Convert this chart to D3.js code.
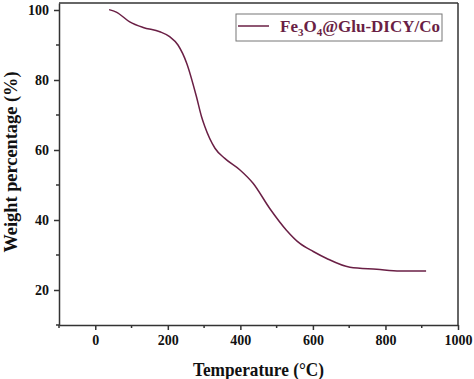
<!DOCTYPE html>
<html>
<head>
<meta charset="utf-8">
<script src="https://cdn.jsdelivr.net/npm/d3@7"></script>
<style>
  body { margin: 0; background: #fff; }
  svg text { font-family: "Liberation Serif", "Times New Roman", serif; font-weight: bold; }
</style>
</head>
<body>
<div id="chart-area"></div>
<script>
// TGA curve
let temperature = [38, 58, 95, 132, 178, 205, 228, 252, 279, 293, 302, 330, 357, 399, 435, 481, 527, 564, 601, 638, 702, 776, 840, 912];
let weight = [100.1, 99.4, 96.6, 95.0, 93.8, 92.4, 90.0, 84.8, 75.2, 69.5, 66.7, 60.5, 57.6, 54.3, 50.5, 43.3, 37.1, 33.3, 31.0, 29.0, 26.5, 25.9, 25.4, 25.4];
let xTicks = [0, 200, 400, 600, 800, 1000];
let yTicks = [20, 40, 60, 80, 100];
let seriesName = ["Fe", "3", "O", "4", "@Glu-DICY/Co"];

let margin = {top: 3, right: 16, bottom: 54, left: 59},
    width = 474 - margin.left - margin.right,
    height = 379 - margin.top - margin.bottom;

let lineColor = "#6a1f45";
let axisColor = "#333";

let svg = d3.select("#chart-area")
    .append("svg")
    .attr("width", 474)
    .attr("height", 379);
let g = svg.append("g")
    .attr("transform", "translate(" + margin.left + "," + margin.top + ")");

let x = d3.scaleLinear().domain([-100, 1000]).range([0, width]);
let y = d3.scaleLinear().domain([10, 102]).range([height, 0]);

// minor ticks (every 100 / every 10)
let xMinor = d3.range(-100, 1001, 100).filter(v => xTicks.indexOf(v) < 0);
let yMinor = d3.range(10, 101, 10).filter(v => yTicks.indexOf(v) < 0);

g.selectAll(".xminor").data(xMinor).enter().append("line")
    .attr("x1", d => x(d)).attr("x2", d => x(d))
    .attr("y1", height).attr("y2", height + 3)
    .attr("stroke", axisColor).attr("stroke-width", 1.5);
g.selectAll(".yminor").data(yMinor).enter().append("line")
    .attr("y1", d => y(d)).attr("y2", d => y(d))
    .attr("x1", 0).attr("x2", -3)
    .attr("stroke", axisColor).attr("stroke-width", 1.5);

// Axes
let xAxis = g.append("g")
    .attr("transform", "translate(0," + height + ")")
    .call(d3.axisBottom(x).tickValues(xTicks).tickSize(5).tickSizeOuter(0).tickFormat(d3.format("d")));
let yAxis = g.append("g")
    .call(d3.axisLeft(y).tickValues(yTicks).tickSize(5).tickSizeOuter(0));

[xAxis, yAxis].forEach(a => {
    a.select(".domain").attr("stroke", axisColor).attr("stroke-width", 1.5);
    a.selectAll(".tick line").attr("stroke", axisColor).attr("stroke-width", 1.5);
    a.selectAll(".tick text")
        .attr("fill", "#111")
        .style("font-size", "14px")
        .style("font-family", "'Liberation Serif', 'Times New Roman', serif")
        .style("font-weight", "bold");
});
xAxis.selectAll(".tick text").attr("dy", "0.71em").attr("y", 10);
yAxis.selectAll(".tick text").attr("x", -10);

// top and right frame
g.append("line").attr("x1", 0).attr("x2", width).attr("y1", 0).attr("y2", 0)
    .attr("stroke", axisColor).attr("stroke-width", 1.5);
g.append("line").attr("x1", width).attr("x2", width).attr("y1", 0).attr("y2", height)
    .attr("stroke", axisColor).attr("stroke-width", 1.5);

// The curve
let pts = temperature.map((t, i) => [t, weight[i]]);
g.append("path")
    .datum(pts)
    .attr("fill", "none")
    .attr("stroke", lineColor)
    .attr("stroke-width", 1.5)
    .attr("d", d3.line().x(d => x(d[0])).y(d => y(d[1])).curve(d3.curveMonotoneX));

// Legend
let leg = svg.append("g");
leg.append("rect")
    .attr("x", 236).attr("y", 14).attr("width", 206).attr("height", 27)
    .attr("fill", "#fff").attr("stroke", "#777").attr("stroke-width", 1);
leg.append("line")
    .attr("x1", 238).attr("x2", 269).attr("y1", 26).attr("y2", 26)
    .attr("stroke", lineColor).attr("stroke-width", 1.5);
let lt = leg.append("text")
    .attr("x", 280).attr("y", 32)
    .attr("fill", lineColor)
    .style("font-size", "17px");
seriesName.forEach((s, i) => {
    let sp = lt.append("tspan").text(s);
    if (i === 1 || i === 3) sp.attr("dy", 4).style("font-size", "11px");
    else if (i === 2 || i === 4) sp.attr("dy", -4);
});

// Axis titles
svg.append("text")
    .attr("x", margin.left + width / 2).attr("y", 376)
    .attr("text-anchor", "middle")
    .attr("fill", "#111")
    .attr("textLength", 131)
    .attr("lengthAdjust", "spacingAndGlyphs")
    .style("font-size", "19px")
    .text("Temperature (°C)");
svg.append("text")
    .attr("transform", "translate(17,162) rotate(-90)")
    .attr("text-anchor", "middle")
    .attr("fill", "#111")
    .attr("textLength", 181)
    .attr("lengthAdjust", "spacingAndGlyphs")
    .style("font-size", "18px")
    .text("Weight percentage (%)");
</script>
</body>
</html>
